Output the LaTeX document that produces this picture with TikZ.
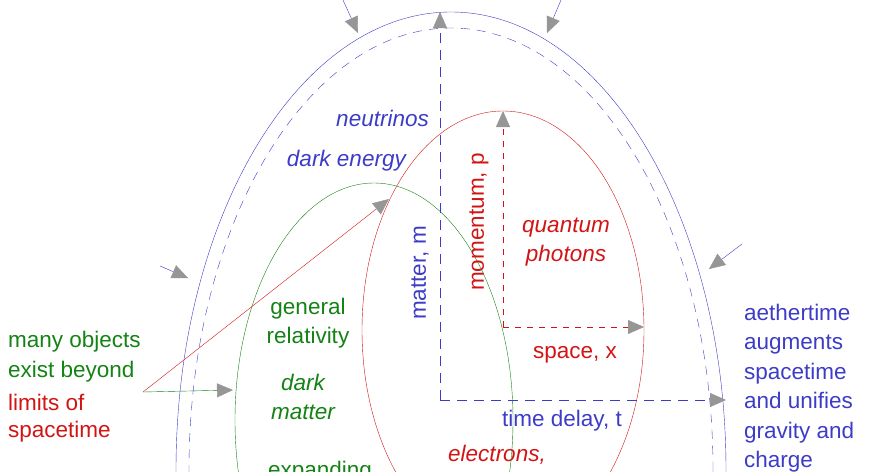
\documentclass[tikz,border=0pt]{standalone}
\usepackage{fontspec}
\setmainfont{Liberation Sans}
\usetikzlibrary{arrows.meta}
\definecolor{bl}{RGB}{60,60,200}
\definecolor{rd}{RGB}{210,20,20}
\definecolor{gr}{RGB}{20,130,20}
\definecolor{tipc}{RGB}{150,150,150}
\tikzset{x=1pt,y=-1pt,line width=1.5pt,
 gtip/.style={-{Triangle[length=16pt,width=14pt,color=tipc]}},
 lbl/.style={font=\fontsize{22.5}{29.5}\selectfont,inner sep=0pt,align=center},
 ilbl/.style={lbl,font=\fontsize{22.5}{29.5}\selectfont\itshape}}
\begin{document}
\begin{tikzpicture}
\useasboundingbox (0,0) rectangle (896,471);
\clip (0,0) rectangle (896,471);
\draw[bl] (451,470) ellipse [x radius=275,y radius=458];
\draw[bl,dash pattern=on 9pt off 7pt] (451,470) ellipse [x radius=262,y radius=442];
\draw[rd] (503,330) ellipse [x radius=141,y radius=219];
\draw[gr] (374,420) ellipse [x radius=139,y radius=237];
\coordinate (O) at (440,400);
\coordinate (Mt) at (440,12);
\coordinate (Tr) at (726,400);
\coordinate (P) at (503,327);
\coordinate (Pt) at (503,111);
\coordinate (Xr) at (644,327);
\draw[bl,dash pattern=on 10pt off 7pt,gtip] (O) -- (Mt);
\draw[bl,dash pattern=on 10pt off 7pt,gtip] (O) -- (Tr);
\draw[rd,dash pattern=on 6pt off 6pt,gtip] (P) -- (Pt);
\draw[rd,dash pattern=on 6pt off 6pt,gtip] (P) -- (Xr);
\coordinate (a1) at (343,0); \coordinate (b1) at (358,33);
\coordinate (a2) at (561,0); \coordinate (b2) at (547,33);
\coordinate (a3) at (160,266); \coordinate (b3) at (188,278);
\coordinate (a4) at (742,244); \coordinate (b4) at (709,269);
\foreach \a/\b in {a1/b1,a2/b2,a3/b3,a4/b4}
  \draw[bl,gtip] (\a) -- (\b);
\node[lbl,gr,anchor=west] (l1) at (8,342) {many objects};
\node[lbl,gr,anchor=west] (l2) at (8,372) {exist beyond};
\node[lbl,rd,anchor=west] (l3) at (8,402) {limits of};
\node[lbl,rd,anchor=west] (l4) at (8,432) {spacetime};
\coordinate (S) at (143,392);
\draw[gr,gtip] (S) -- (233,390);
\draw[rd,gtip] (S) -- (389,199);
\node[lbl,bl,anchor=west,align=left] (r) at (744,388) {aethertime\\augments\\spacetime\\and unifies\\gravity and\\charge};
\node[ilbl,bl,anchor=east] (n) at (429,118) {neutrinos};
\node[ilbl,bl,anchor=east] (de) at (406,161) {dark energy};
\node[lbl,bl,rotate=90] (m) at (420,273) {matter, m};
\node[lbl,rd,rotate=90] (mp) at (479,222) {momentum, p};
\node[ilbl,rd] (qp) at (566,242) {quantum\\photons};
\node[lbl,rd] (sx) at (575,355) {space, x};
\node[lbl,gr] (grl) at (308,323) {general\\relativity};
\node[ilbl,gr] (dm) at (303,397) {dark\\matter};
\node[lbl,bl] (td) at (562,421) {time delay, t};
\node[ilbl,rd] (el) at (497,455) {electrons,};
\node[lbl,gr] (ex) at (320,472) {expanding};
\end{tikzpicture}
\end{document}
